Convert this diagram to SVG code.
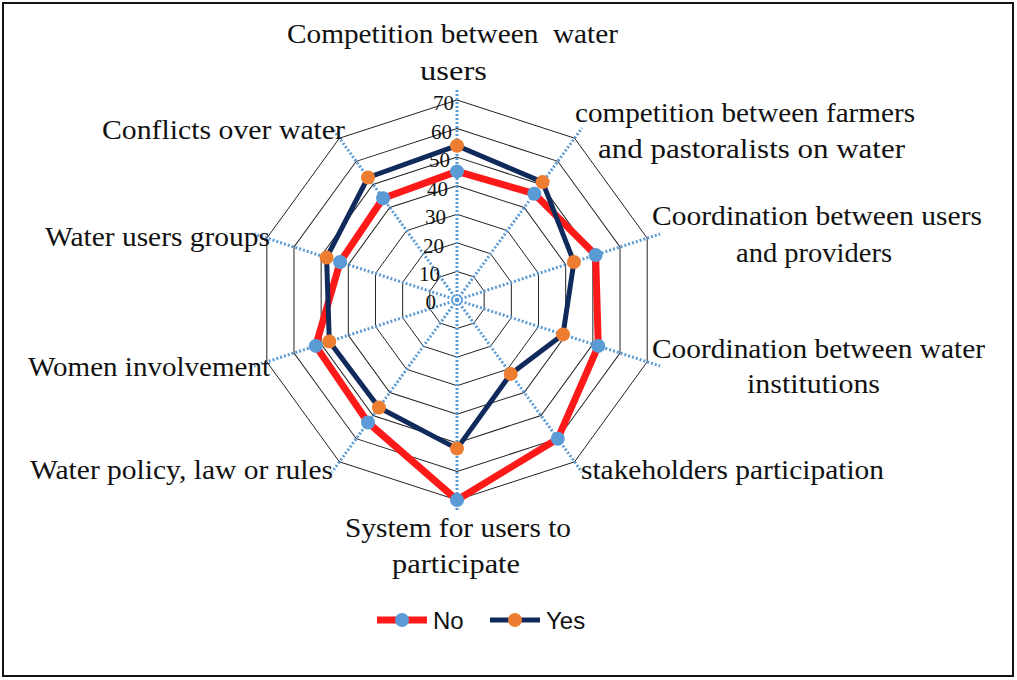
<svg xmlns="http://www.w3.org/2000/svg" width="1017" height="680" viewBox="0 0 1017 680">
<style>
.ring{fill:none;stroke:#222;stroke-width:1}
.ax{stroke:#5b9bd5;stroke-width:3;stroke-dasharray:2 2}
.lbl{font-family:"Liberation Serif",serif;font-size:27px;fill:#111}
.tick{font-family:"Liberation Serif",serif;font-size:21px;fill:#111;text-anchor:end}
.leg{font-family:"Liberation Sans",sans-serif;font-size:24px;fill:#111}
.no{fill:none;stroke:#ff1a1a;stroke-width:7;stroke-linejoin:round}
.yes{fill:none;stroke:#102a5c;stroke-width:5;stroke-linejoin:round}
.mno{fill:#5b9bd5}
.myes{fill:#ed7d31}
</style>
<defs>
<polygon id="dec" points="0,-200 117.6,-161.8 190.2,-61.8 190.2,61.8 117.6,161.8 0,200 -117.6,161.8 -190.2,61.8 -190.2,-61.8 -117.6,-161.8"/>
</defs>
<rect x="3" y="3" width="1010" height="673" fill="#fff" stroke="#111" stroke-width="2"/>
<g id="grid" transform="translate(457,300)">
<use href="#dec" class="ring" transform="scale(0.142857)" style="stroke-width:7"/>
<use href="#dec" class="ring" transform="scale(0.285714)" style="stroke-width:3.5"/>
<use href="#dec" class="ring" transform="scale(0.428571)" style="stroke-width:2.33"/>
<use href="#dec" class="ring" transform="scale(0.571429)" style="stroke-width:1.75"/>
<use href="#dec" class="ring" transform="scale(0.714286)" style="stroke-width:1.4"/>
<use href="#dec" class="ring" transform="scale(0.857143)" style="stroke-width:1.17"/>
<use href="#dec" class="ring"/>
</g>
<g id="connectors">
<line class="ax" x1="457" y1="300" x2="457" y2="88"/>
<line class="ax" x1="457" y1="300" x2="582" y2="128"/>
<line class="ax" x1="457" y1="300" x2="660" y2="234"/>
<line class="ax" x1="457" y1="300" x2="660" y2="366"/>
<line class="ax" x1="457" y1="300" x2="582" y2="472"/>
<line class="ax" x1="457" y1="300" x2="457" y2="512"/>
<line class="ax" x1="457" y1="300" x2="332" y2="472"/>
<line class="ax" x1="457" y1="300" x2="254" y2="366"/>
<line class="ax" x1="457" y1="300" x2="254" y2="234"/>
<line class="ax" x1="457" y1="300" x2="332" y2="128"/>
</g>
<g id="ticks">
<text class="tick" x="436" y="309">0</text>
<text class="tick" x="440" y="281">10</text>
<text class="tick" x="444" y="253">20</text>
<text class="tick" x="446" y="224">30</text>
<text class="tick" x="448" y="196">40</text>
<text class="tick" x="450" y="167">50</text>
<text class="tick" x="452" y="139">60</text>
<text class="tick" x="454" y="110">70</text>
</g>
<g id="series-no">
<polygon class="no" points="457,171.4 534.3,193.7 595.6,255 598.3,345.9 557.8,438.7 457,500 368,422.5 315.7,345.9 340.1,262 383.1,198.3"/>
<g class="mno">
<circle cx="457" cy="171.4" r="7"/><circle cx="534.3" cy="193.7" r="7"/><circle cx="595.6" cy="255" r="7"/><circle cx="598.3" cy="345.9" r="7"/><circle cx="557.8" cy="438.7" r="7"/><circle cx="457" cy="500" r="7"/><circle cx="368" cy="422.5" r="7"/><circle cx="315.7" cy="345.9" r="7"/><circle cx="340.1" cy="262" r="7"/><circle cx="383.1" cy="198.3" r="7"/>
</g>
</g>
<g id="series-yes">
<polygon class="yes" points="457,145.7 542.6,182.1 573.9,262 563,334.4 510.7,373.9 457,448.6 378.9,407.5 329.3,341.5 326.6,257.6 368,177.5"/>
<g class="myes">
<circle cx="457" cy="145.7" r="7"/><circle cx="542.6" cy="182.1" r="7"/><circle cx="573.9" cy="262" r="7"/><circle cx="563" cy="334.4" r="7"/><circle cx="510.7" cy="373.9" r="7"/><circle cx="457" cy="448.6" r="7"/><circle cx="378.9" cy="407.5" r="7"/><circle cx="329.3" cy="341.5" r="7"/><circle cx="326.6" cy="257.6" r="7"/><circle cx="368" cy="177.5" r="7"/>
</g>
</g>
<g id="labels">
<text class="lbl" x="287" y="43" textLength="331" lengthAdjust="spacingAndGlyphs" xml:space="preserve">Competition between  water</text>
<text class="lbl" x="420" y="80" textLength="67" lengthAdjust="spacingAndGlyphs">users</text>
<text class="lbl" x="575" y="122" textLength="340" lengthAdjust="spacingAndGlyphs">competition between farmers</text>
<text class="lbl" x="598" y="158" textLength="307" lengthAdjust="spacingAndGlyphs">and pastoralists on water</text>
<text class="lbl" x="652" y="225" textLength="330" lengthAdjust="spacingAndGlyphs">Coordination between users</text>
<text class="lbl" x="736" y="262" textLength="156" lengthAdjust="spacingAndGlyphs">and providers</text>
<text class="lbl" x="652" y="358" textLength="333" lengthAdjust="spacingAndGlyphs">Coordination between water</text>
<text class="lbl" x="747" y="393" textLength="133" lengthAdjust="spacingAndGlyphs">institutions</text>
<text class="lbl" x="581" y="479" textLength="303" lengthAdjust="spacingAndGlyphs">stakeholders participation</text>
<text class="lbl" x="345" y="537" textLength="226" lengthAdjust="spacingAndGlyphs">System for users to</text>
<text class="lbl" x="392" y="573" textLength="128" lengthAdjust="spacingAndGlyphs">participate</text>
<text class="lbl" x="30" y="479" textLength="303" lengthAdjust="spacingAndGlyphs">Water policy, law or rules</text>
<text class="lbl" x="28" y="376" textLength="242" lengthAdjust="spacingAndGlyphs">Women involvement</text>
<text class="lbl" x="45" y="246" textLength="225" lengthAdjust="spacingAndGlyphs">Water users groups</text>
<text class="lbl" x="102" y="139" textLength="243" lengthAdjust="spacingAndGlyphs">Conflicts over water</text>
</g>
<g id="legend">
<line x1="377" y1="620" x2="427" y2="620" stroke="#ff1a1a" stroke-width="7"/>
<circle cx="402" cy="620" r="7" class="mno"/>
<text class="leg" x="433" y="629">No</text>
<line x1="490" y1="620" x2="540" y2="620" stroke="#102a5c" stroke-width="5"/>
<circle cx="515" cy="620" r="7" class="myes"/>
<text class="leg" x="546" y="629">Yes</text>
</g>
</svg>
